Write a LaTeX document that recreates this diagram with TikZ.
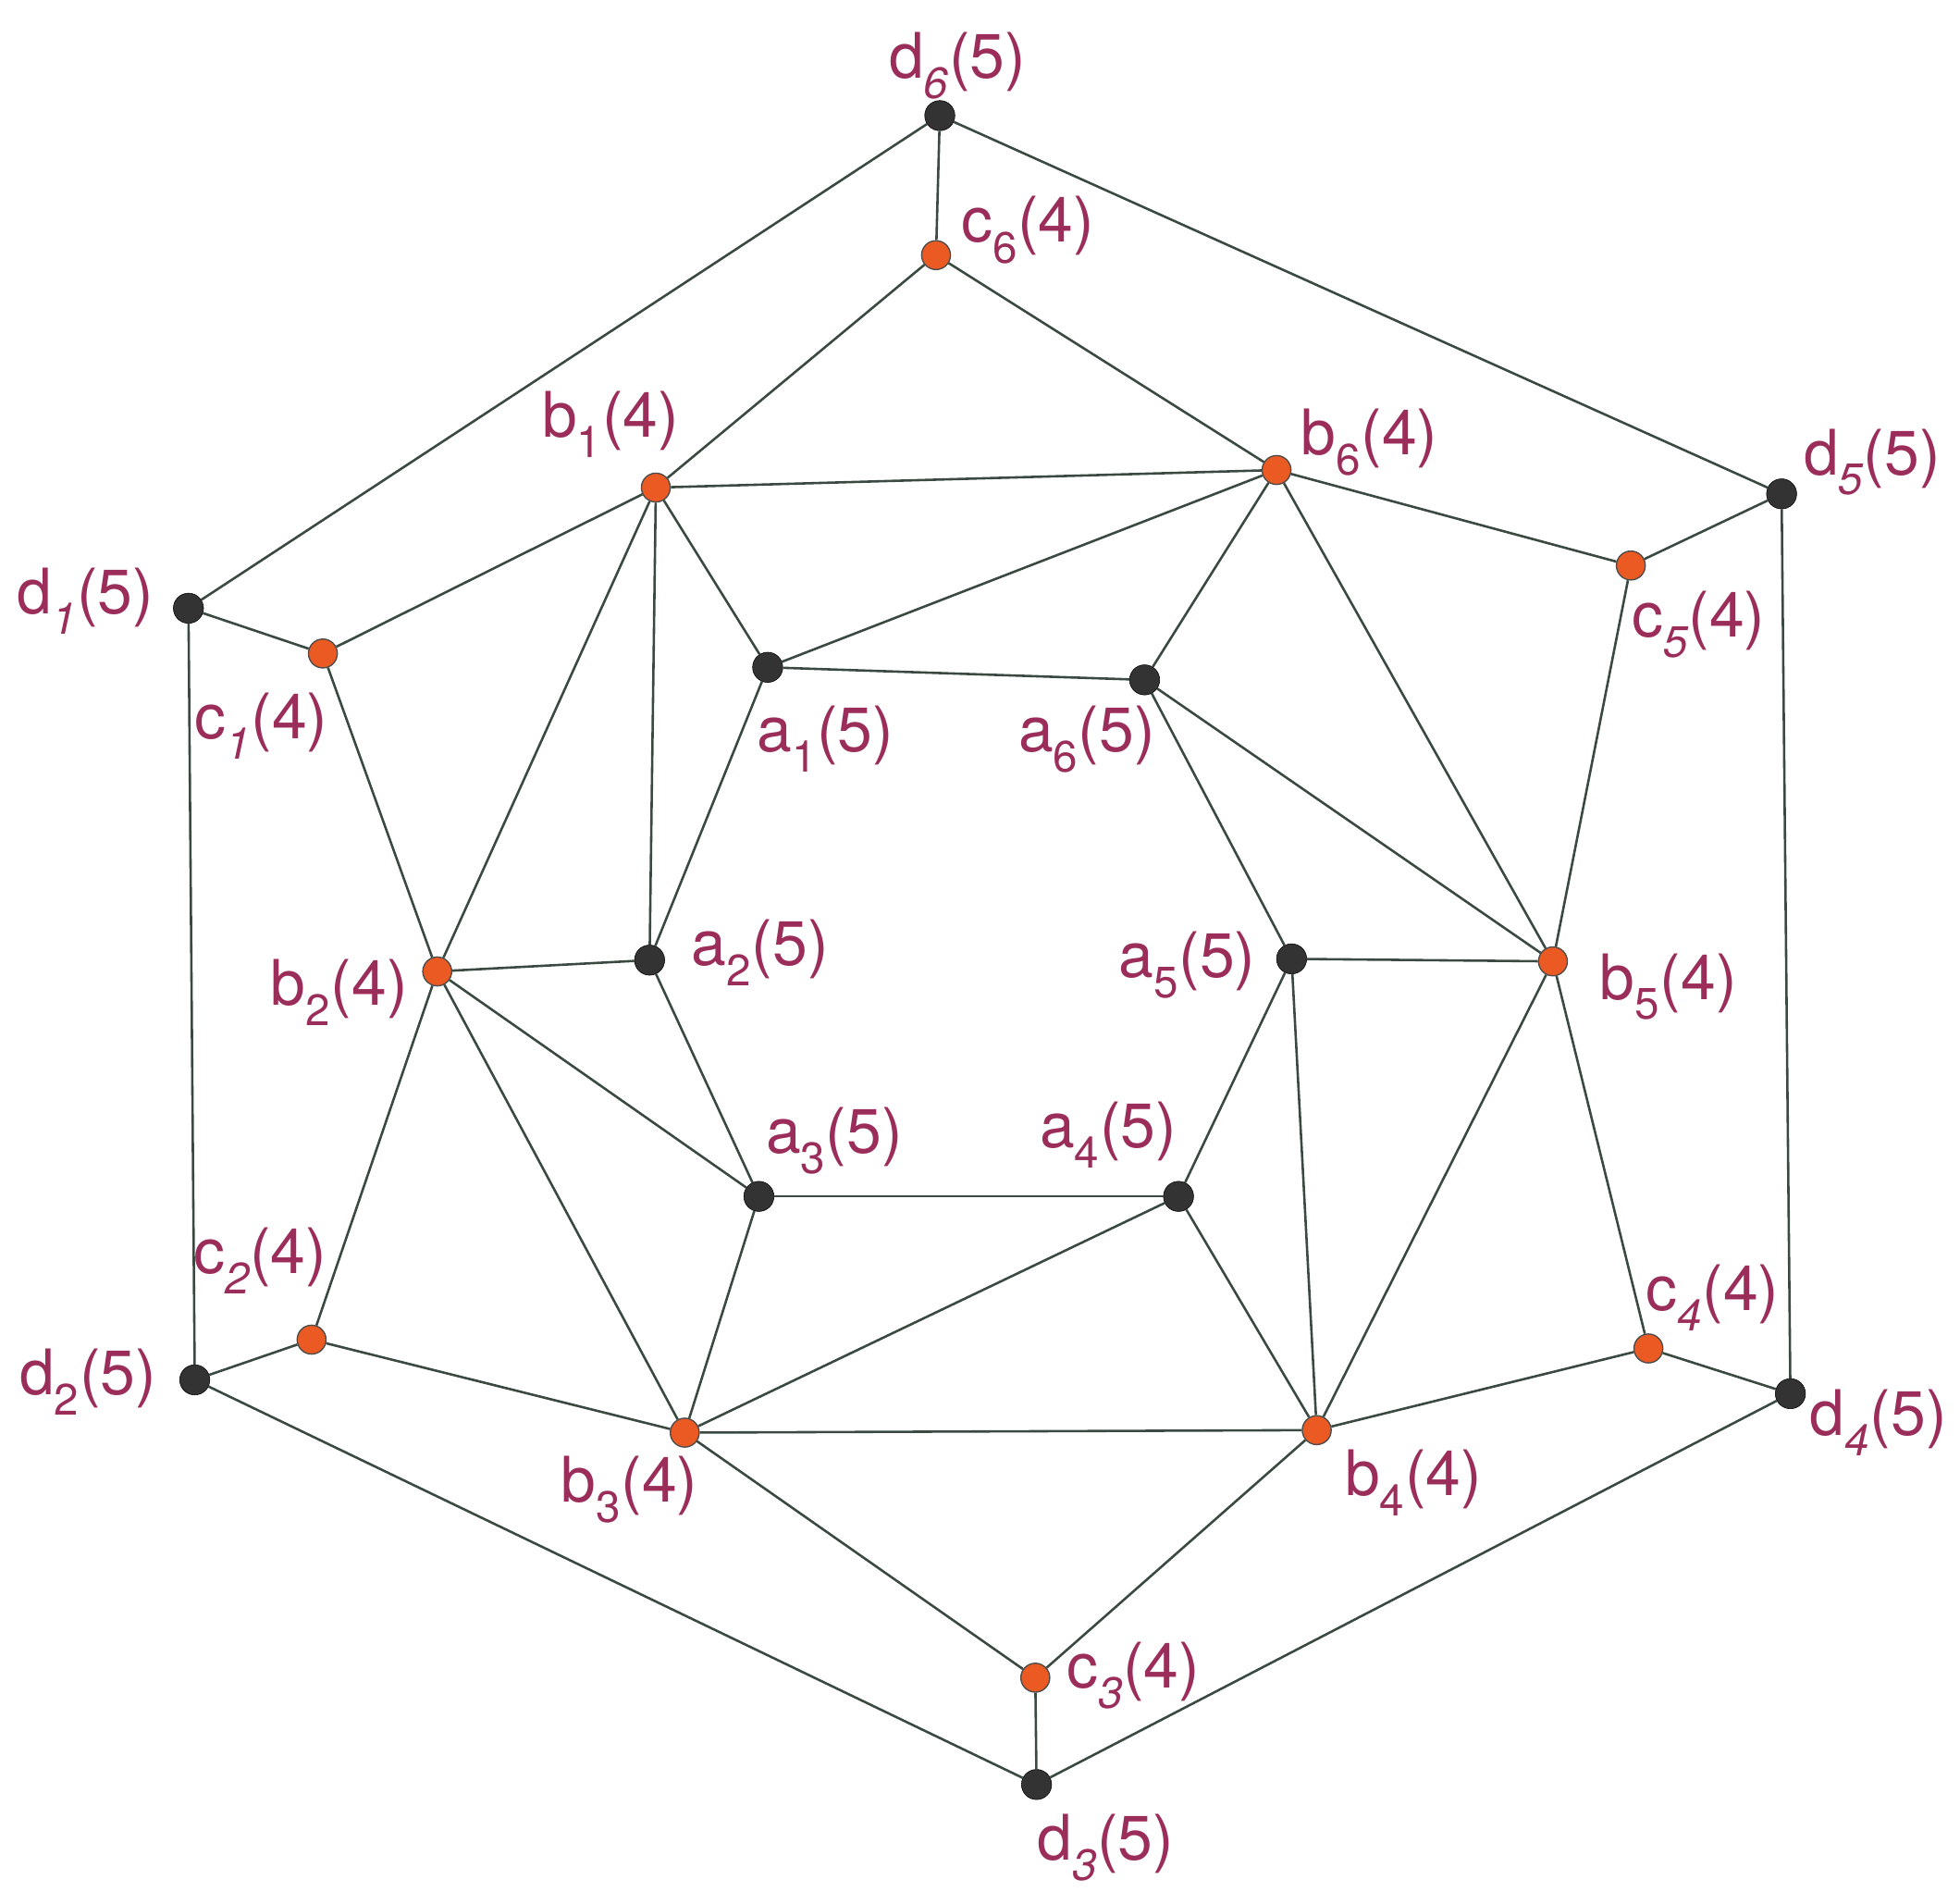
\documentclass[tikz,border=0pt]{standalone}
\usepackage{fontspec}
\setmainfont{TeX Gyre Heros}
\newcommand{\sbi}[1]{\textsubscript{\itshape #1}}
\newcommand{\sbu}[1]{\textsubscript{#1}}
\begin{document}
\begin{tikzpicture}[x=1pt,y=-1pt,
  ed/.style={draw=edc,line width=1.9pt},
  bn/.style={circle,fill=black!80,draw=black,inner sep=0pt,minimum size=24pt},
  on/.style={circle,fill=ornc,draw=black!70,line width=1pt,inner sep=0pt,minimum size=23pt},
  lb/.style={text=lbc,font=\fontsize{50}{56}\selectfont,inner sep=0pt}]
\definecolor{lbc}{HTML}{9B2D5A}
\definecolor{edc}{HTML}{3A4A40}
\definecolor{ornc}{HTML}{EA5A22}
\useasboundingbox (0,0) rectangle (1560,1515);
\foreach \n/\x/\y in {d6/748/92,d5/1418/393,d1/150/484,a1/611/531,a6/911/541,a2/517/764,a5/1028/763,a3/604/952,a4/938/952,d2/155/1098,d4/1425/1109,d3/825/1420}
  \node[bn] (\n) at (\x,\y) {};
\foreach \n/\x/\y in {c6/745/203,b1/522/388,b6/1016/374,c5/1298/450,c1/257/520,b2/348/773,b5/1236/765,c2/248/1066,c4/1312/1073,b3/545/1140,b4/1048/1138,c3/824/1335}
  \node[on] (\n) at (\x,\y) {};
\foreach \a/\b in {d6/c6,d6/d1,d6/d5,c6/b1,c6/b6,b1/b6,b1/c1,b1/a1,b1/a2,b1/b2,b6/a1,b6/a6,b6/c5,b6/b5,c5/d5,c5/b5,d5/d4,d1/c1,d1/d2,c1/b2,a1/a6,a1/a2,a6/a5,a6/b5,a2/b2,a2/a3,b2/a3,b2/b3,b2/c2,a5/b5,a5/a4,a5/b4,b5/b4,b5/c4,a3/a4,a3/b3,a4/b3,a4/b4,c2/d2,c2/b3,c4/b4,c4/d4,d2/d3,d4/d3,b3/b4,b3/c3,b4/c3,c3/d3}
  \draw[ed] (\a) -- (\b);
\node[lb] (ld6) at (762,52) {d\sbi{6}(5)};
\node[lb] (lc6) at (818,183) {c\sbu{6}(4)};
\node[lb] (lb1) at (486,338) {b\sbu{1}(4)};
\node[lb] (lb6) at (1090,352) {b\sbu{6}(4)};
\node[lb] (ld5) at (1490,368) {d\sbi{5}(5)};
\node[lb] (lc5) at (1352,497) {c\sbi{5}(4)};
\node[lb] (ld1) at (68,478) {d\sbi{1}(5)};
\node[lb] (lc1) at (208,578) {c\sbi{1}(4)};
\node[lb] (la1) at (657,588) {a\sbu{1}(5)};
\node[lb] (la6) at (865,588) {a\sbu{6}(5)};
\node[lb] (la2) at (605,758) {a\sbu{2}(5)};
\node[lb] (lb2) at (270,790) {b\sbu{2}(4)};
\node[lb] (la5) at (945,768) {a\sbu{5}(5)};
\node[lb] (lb5) at (1328,785) {b\sbu{5}(4)};
\node[lb] (la3) at (664,908) {a\sbu{3}(5)};
\node[lb] (la4) at (882,903) {a\sbu{4}(5)};
\node[lb] (lc2) at (207,1003) {c\sbi{2}(4)};
\node[lb] (lc4) at (1363,1033) {c\sbi{4}(4)};
\node[lb] (ld2) at (70,1100) {d\sbu{2}(5)};
\node[lb] (ld4) at (1495,1132) {d\sbi{4}(5)};
\node[lb] (lb3) at (501,1185) {b\sbu{3}(4)};
\node[lb] (lb4) at (1125,1180) {b\sbu{4}(4)};
\node[lb] (lc3) at (902,1333) {c\sbi{3}(4)};
\node[lb] (ld3) at (880,1470) {d\sbi{3}(5)};
\end{tikzpicture}
\end{document}
